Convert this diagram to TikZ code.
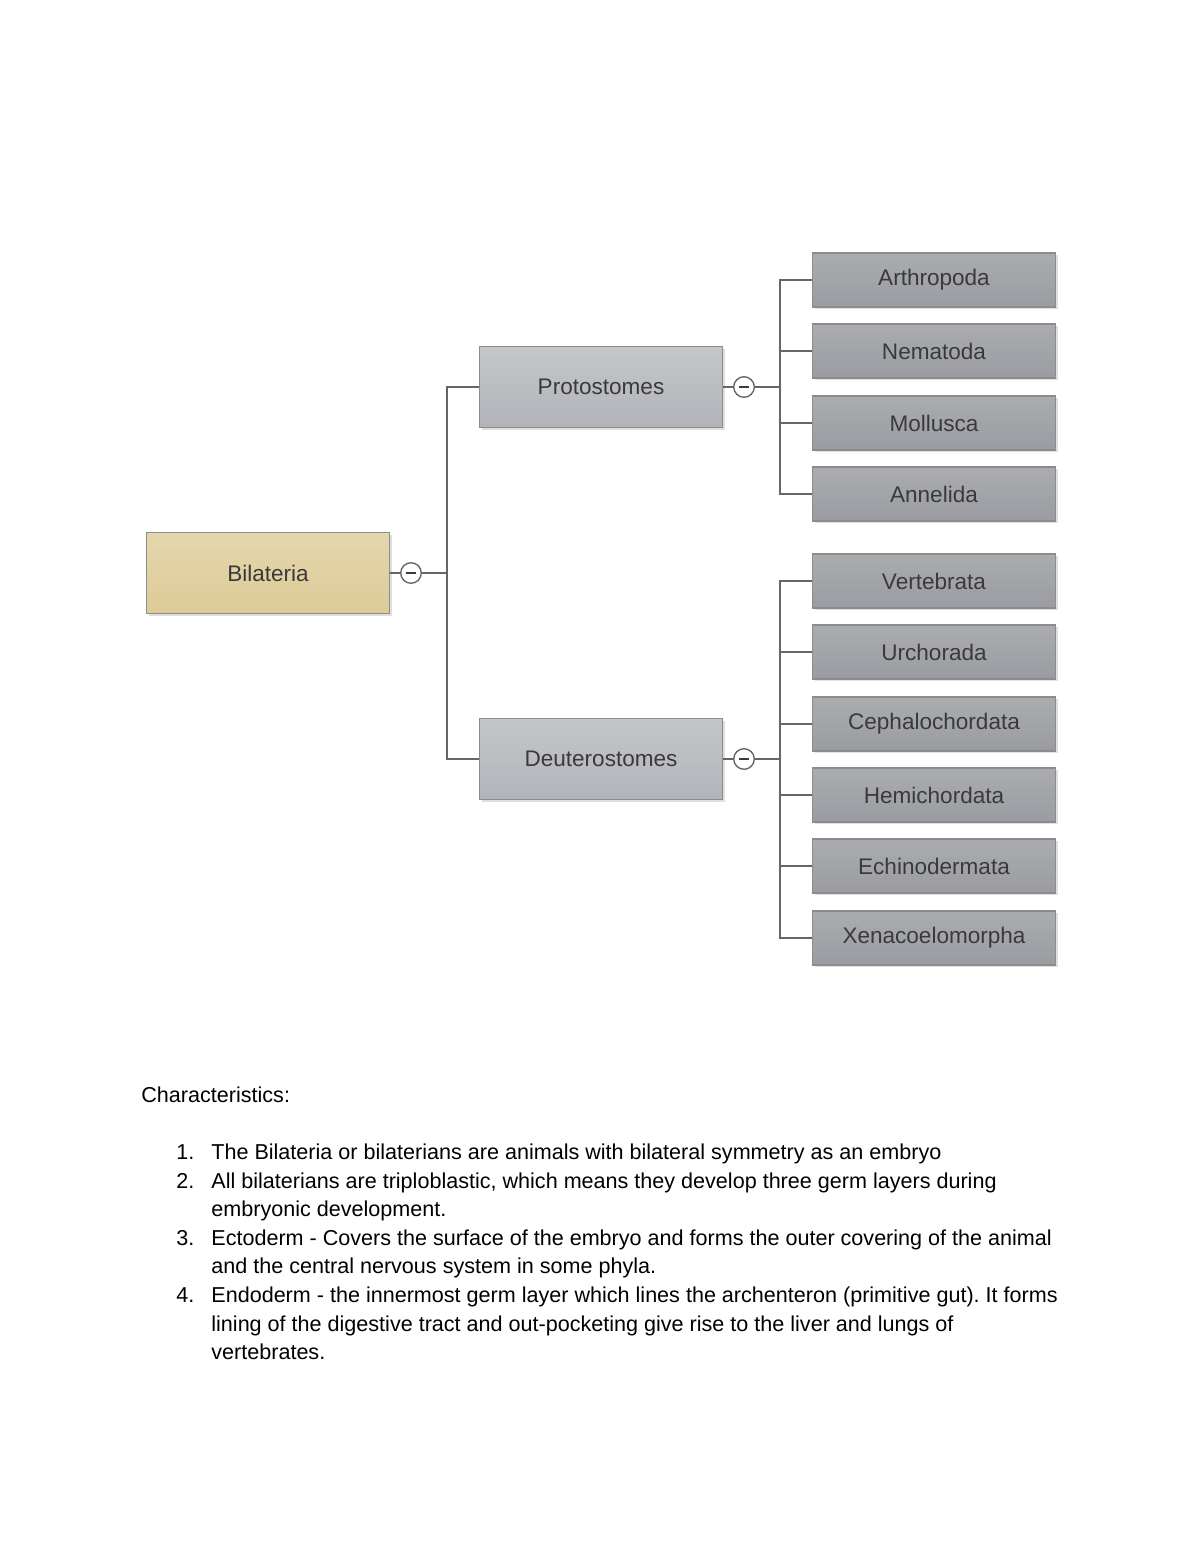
\documentclass[tikz,border=0pt]{standalone}
\usepackage{fontspec}
\setmainfont{Liberation Sans}
\usetikzlibrary{shadows}
\frenchspacing
\definecolor{linkgray}{HTML}{666666}
\definecolor{boxline}{HTML}{8C8C8C}
\definecolor{labeltext}{HTML}{3A3A3A}
\definecolor{roottop}{HTML}{E5D7AD}
\definecolor{rootbottom}{HTML}{DDCB98}
\definecolor{grouptop}{HTML}{C4C6CA}
\definecolor{groupbottom}{HTML}{B2B4B9}
\definecolor{leaftop}{HTML}{AAACB0}
\definecolor{leafbottom}{HTML}{9A9CA1}
\begin{document}
\begin{tikzpicture}[x=0.51pt,y=-0.51pt,
    treebox/.style={draw=boxline, line width=0.6pt, inner sep=0pt, minimum width=123.9pt,
        text=labeltext, font=\fontsize{11.5}{13}\selectfont,
        drop shadow={shadow xshift=1.2pt, shadow yshift=-1.2pt, opacity=0.25}},
    rootbox/.style={treebox, minimum height=41.3pt, top color=roottop, bottom color=rootbottom},
    groupbox/.style={treebox, minimum height=41.3pt, top color=grouptop, bottom color=groupbottom},
    leafbox/.style={treebox, minimum height=27.5pt, top color=leaftop, bottom color=leafbottom},
    btn/.style={circle, draw=linkgray, line width=0.7pt, fill=white, minimum size=10.5pt, inner sep=0pt,
        path picture={\draw[line width=1pt, labeltext] ([xshift=-2.5pt]path picture bounding box.center) -- ([xshift=2.5pt]path picture bounding box.center);}},
    link/.style={draw=linkgray, line width=1pt},
    textline/.style={anchor=base west, inner sep=0pt, font=\fontsize{11}{13}\selectfont}]
    \useasboundingbox (0,0) rectangle (1200,1553);
    % tree
    \node [rootbox] (bil) at (268,573) {Bilateria};
    \node [groupbox] (pro) at (601,387) {Protostomes};
    \node [groupbox] (deu) at (601,759) {Deuterostomes};
    \node [leafbox] (art) at (934,280) {Arthropoda};
    \node [leafbox] (nem) at (934,351) {Nematoda};
    \node [leafbox] (mol) at (934,423) {Mollusca};
    \node [leafbox] (ann) at (934,494) {Annelida};
    \node [leafbox] (ver) at (934,581) {Vertebrata};
    \node [leafbox] (uro) at (934,652) {Urchorada};
    \node [leafbox] (cep) at (934,724) {Cephalochordata};
    \node [leafbox] (hem) at (934,795) {Hemichordata};
    \node [leafbox] (ech) at (934,866) {Echinodermata};
    \node [leafbox] (xen) at (934,938) {Xenacoelomorpha};
    \node [btn] (bilbtn) at (411,573) {};
    \node [btn] (probtn) at (744,387) {};
    \node [btn] (deubtn) at (744,759) {};
    \coordinate (biltrunk) at (447,573);
    \coordinate (protrunk) at (780,387);
    \coordinate (deutrunk) at (780,759);
    % connectors
    \draw [link] (bil.east) -- (bilbtn.west);
    \draw [link] (bilbtn.east) -- (biltrunk);
    \draw [link] (pro.west) -| (biltrunk) |- (deu.west);
    \draw [link] (pro.east) -- (probtn.west);
    \draw [link] (probtn.east) -- (protrunk);
    \draw [link] (art.west) -| (protrunk) |- (ann.west);
    \draw [link] (protrunk |- nem.west) -- (nem.west);
    \draw [link] (protrunk |- mol.west) -- (mol.west);
    \draw [link] (deu.east) -- (deubtn.west);
    \draw [link] (deubtn.east) -- (deutrunk);
    \draw [link] (ver.west) -| (deutrunk) |- (xen.west);
    \draw [link] (deutrunk |- uro.west) -- (uro.west);
    \draw [link] (deutrunk |- cep.west) -- (cep.west);
    \draw [link] (deutrunk |- hem.west) -- (hem.west);
    \draw [link] (deutrunk |- ech.west) -- (ech.west);
    % characteristics
    \node [textline] (chr) at (141,1102) {Characteristics:};
    \node [textline] (n1) at (176,1159) {1.};
    \node [textline] (t1) at (211,1159) {The Bilateria or bilaterians are animals with bilateral symmetry as an embryo};
    \node [textline] (n2) at (176,1188) {2.};
    \node [textline] (t2) at (211,1188) {All bilaterians are triploblastic, which means they develop three germ layers during};
    \node [textline] (t2b) at (211,1216) {embryonic development.};
    \node [textline] (n3) at (176,1245) {3.};
    \node [textline] (t3) at (211,1245) {Ectoderm - Covers the surface of the embryo and forms the outer covering of the animal};
    \node [textline] (t3b) at (211,1273) {and the central nervous system in some phyla.};
    \node [textline] (n4) at (176,1302) {4.};
    \node [textline] (t4) at (211,1302) {Endoderm - the innermost germ layer which lines the archenteron (primitive gut). It forms};
    \node [textline] (t4b) at (211,1331) {lining of the digestive tract and out-pocketing give rise to the liver and lungs of};
    \node [textline] (t4c) at (211,1359) {vertebrates.};
\end{tikzpicture}
\end{document}
